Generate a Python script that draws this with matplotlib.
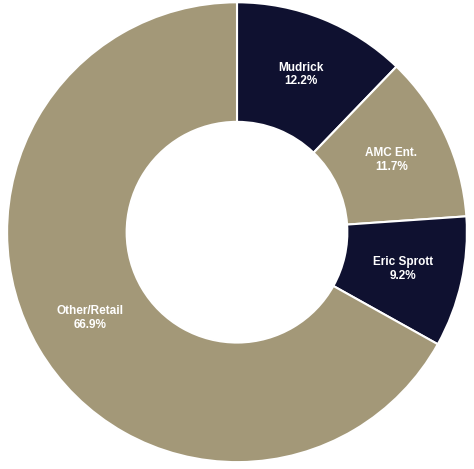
import matplotlib
matplotlib.use("Agg")
import matplotlib.pyplot as plt
import numpy as np

labels = ["Mudrick", "AMC Ent.", "Eric Sprott", "Other/Retail"]
values = [12.2, 11.7, 9.2, 66.9]
colors = ["#0f1130", "#a39878", "#0f1130", "#a39878"]

fig = plt.figure(figsize=(4.74, 4.69), dpi=100)
ax = fig.add_axes([0.0, 0.0, 1.0, 1.0])
wedges, _ = ax.pie(values, colors=colors, startangle=90, counterclock=False,
                   radius=1.0, wedgeprops=dict(width=0.52, edgecolor="white", linewidth=1.5))
for w, lab, v in zip(wedges, labels, values):
    ang = np.deg2rad((w.theta1 + w.theta2) / 2)
    r = 0.74
    ax.text(r*np.cos(ang), r*np.sin(ang), f"{lab}\n{v}%", ha="center", va="center",
            color="white", fontsize=8.5, fontweight="bold", family="Liberation Sans")
ax.set_xlim(-1.03, 1.03)
ax.set_ylim(-1.03, 1.01)
ax.set_aspect("equal")
fig.savefig("out.png", dpi=100)
